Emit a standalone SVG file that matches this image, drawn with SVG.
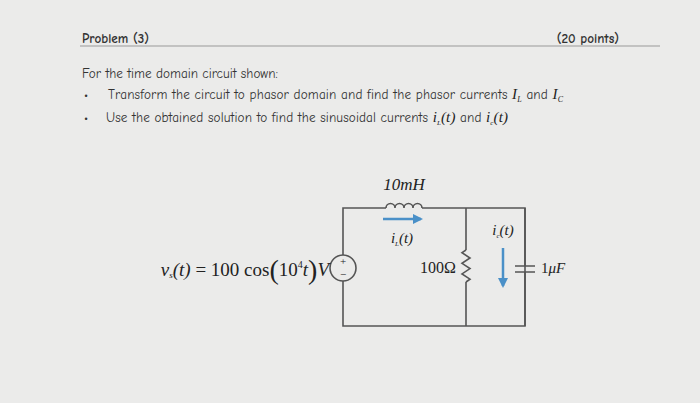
<svg xmlns="http://www.w3.org/2000/svg" width="700" height="403" viewBox="0 0 700 403">
<defs>
<style>
.t{font-family:"Comic Neue","DejaVu Sans",sans-serif;font-size:13.2px;fill:#333}
.m{font-family:"Liberation Serif",serif;font-style:italic;fill:#222}
.r{font-family:"Liberation Serif",serif;fill:#222}
.w{stroke:#555;stroke-width:1.6;fill:none}
.b{stroke:#4a90c8;stroke-width:2.5;fill:none}
</style>
<marker id="ah" viewBox="0 0 10 10" refX="8" refY="5" markerWidth="4" markerHeight="4" orient="auto"><path d="M0,0L10,5L0,10z" fill="#4a90c8"/></marker>
</defs>
<rect width="700" height="403" fill="#ebebea"/>
<text x="82" y="43" class="t" font-weight="bold" fill="#222">Problem (3)</text>
<text x="619" y="43" class="t" font-weight="bold" text-anchor="end">(20 points)</text>
<line x1="80" y1="46" x2="660" y2="46" stroke="#999" stroke-width="1"/>
<text x="82" y="78" class="t">For the time domain circuit  shown:</text>
<text x="84" y="99" class="t">•</text>
<text x="108" y="99" class="t" textLength="455" lengthAdjust="spacing">Transform the circuit to phasor domain and find the phasor currents  <tspan class="m" font-size="15">I</tspan><tspan class="m" font-size="8" dy="3">L</tspan><tspan dy="-3">  and  </tspan><tspan class="m" font-size="15">I</tspan><tspan class="m" font-size="8" dy="3">C</tspan></text>
<text x="84" y="122" class="t">•</text>
<text x="106" y="122" class="t" textLength="402" lengthAdjust="spacing">Use the obtained solution to find the sinusoidal currents  <tspan class="m" font-size="15">i</tspan><tspan class="m" font-size="7" dy="3">L</tspan><tspan class="m" font-size="15" dy="-3">(t)</tspan>  and  <tspan class="m" font-size="15">i</tspan><tspan class="m" font-size="7" dy="3">c</tspan><tspan class="m" font-size="15" dy="-3">(t)</tspan></text>
<g id="connectors">
<path class="w" d="M343,255V208H386M422,208H525V326H343V281M466,208V250M466,282V326"/>
<path class="w" d="M525,208V266M525,272V326"/>
</g>
<g id="source"><circle cx="343" cy="268" r="13" fill="#ebebea" stroke="#555" stroke-width="1.6"/><text x="343" y="265" class="r" font-size="11" text-anchor="middle">+</text><text x="343" y="278" class="r" font-size="11" text-anchor="middle">−</text>
<text x="329" y="276" class="m" font-size="19" text-anchor="end">v<tspan font-size="9" dy="2">s</tspan><tspan dy="-2">(t) </tspan><tspan font-style="normal">= 100 cos</tspan><tspan font-style="normal" font-size="28" dy="3">(</tspan><tspan font-style="normal" dy="-3">10</tspan><tspan font-size="10" dy="-8" font-style="normal">4</tspan><tspan dy="8">t</tspan><tspan font-style="normal" font-size="28" dy="3">)</tspan><tspan dy="-3">V</tspan></text></g>
<g id="inductor"><path class="w" d="M386,208a4.5,4.5 0 0 1 9,0a4.5,4.5 0 0 1 9,0a4.5,4.5 0 0 1 9,0a4.5,4.5 0 0 1 9,0"/>
<text x="404" y="190" class="m" font-size="17" text-anchor="middle">10mH</text>
<line class="b" x1="383" y1="219" x2="421" y2="219" marker-end="url(#ah)"/>
<text x="402" y="243" class="m" font-size="15" text-anchor="middle">i<tspan font-size="7" dy="3">L</tspan><tspan dy="-3">(t)</tspan></text></g>
<g id="resistor"><path class="w" d="M466,250l-4,2.7l8,5.3l-8,5.3l8,5.3l-8,5.3l8,5.3l-4,2.8"/>
<text x="456" y="273" class="r" font-size="16" text-anchor="end">100Ω</text></g>
<g id="capacitor"><path class="w" d="M515,266H535M515,272H535"/>
<text x="541" y="273" class="r" font-size="15">1<tspan font-style="italic">μF</tspan></text>
<line class="b" x1="503" y1="248" x2="503" y2="286" marker-end="url(#ah)"/>
<text x="503" y="235" class="m" font-size="15" text-anchor="middle">i<tspan font-size="7" dy="3">c</tspan><tspan dy="-3">(t)</tspan></text></g>
</svg>
